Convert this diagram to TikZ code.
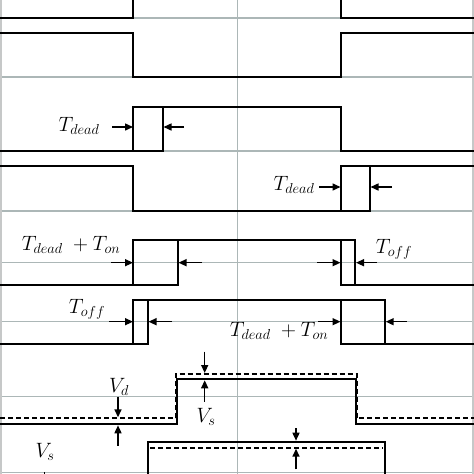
\documentclass[tikz,border=0pt]{standalone}
\usetikzlibrary{arrows.meta}
\definecolor{gridc}{RGB}{172,183,183}
\definecolor{edgec}{RGB}{198,200,200}
\tikzset{
  sig/.style={line width=2pt, line join=miter, line cap=rect},
  dsig/.style={line width=1.8pt, dash pattern=on 5pt off 3pt},
  grid/.style={gridc, line width=1.1pt},
  marker/.style={line width=1.5pt, -{Triangle[length=8pt,width=7pt]}},
  lab/.style={anchor=base, inner sep=0pt, font=\huge},
}
\begin{document}
\begin{tikzpicture}[x=1pt,y=-1pt]
\useasboundingbox (0,0) rectangle (474,474);
\fill[white] (0,0) rectangle (474,474);
\clip (0,0) rectangle (474,474);
% grid
\foreach \yy in {18,77,151,211,262.7,321.7,396.7,472.7}
  \draw[grid] (0,\yy) -- (474,\yy);
\draw[grid] (237.3,0) -- (237.3,474);
\draw[edgec, line width=2.2pt] (1.1,0) -- (1.1,474);
\draw[edgec, line width=1.8pt] (473.2,0) -- (473.2,474);
% row 1
\draw[sig] (0,18) -- (133.3,18) -- (133.3,-5);
\draw[sig] (340.7,-5) -- (340.7,18) -- (480,18);
% row 2
\draw[sig] (-5,33) -- (133.3,33) -- (133.3,77) -- (340.7,77) -- (340.7,33) -- (480,33);
% row 3
\draw[sig] (-5,151) -- (133.3,151);
\draw[sig] (133.3,151) rectangle (162.7,107);
\draw[sig] (162.7,107) -- (340.7,107) -- (340.7,151) -- (480,151);
% row 4
\draw[sig] (-5,165.7) -- (133.3,165.7) -- (133.3,211) -- (340.7,211);
\draw[sig] (340.7,211) rectangle (370,165.7);
\draw[sig] (370,165.7) -- (480,165.7);
% row 5
\draw[sig] (-5,285) -- (133.3,285);
\draw[sig] (133.3,285) rectangle (177.7,240.3);
\draw[sig] (177.7,240.3) -- (340.7,240.3);
\draw[sig] (340.7,240.3) rectangle (355.3,285);
\draw[sig] (355.3,285) -- (480,285);
% row 6
\draw[sig] (-5,343.7) -- (133.3,343.7);
\draw[sig] (133.3,343.7) rectangle (147.7,300);
\draw[sig] (147.7,300) -- (340.7,300);
\draw[sig] (340.7,300) rectangle (385,343.7);
\draw[sig] (385,343.7) -- (480,343.7);
% row 7
\draw[dsig] (0,418.3) -- (176,418.3) -- (176,374) -- (357,374) -- (357,418.3) -- (474,418.3);
\draw[sig] (-5,424.3) -- (177.3,424.3) -- (177.3,379.3) -- (355.7,379.3) -- (355.7,424.3) -- (480,424.3);
% row 8
\draw[sig] (147.7,480) -- (147.7,441.7) -- (385,441.7) -- (385,480);
\draw[dsig] (150,447.7) -- (383,447.7);
% labels
\node[lab] (l1) at (79,131) {$T_{dead}$};
\node[lab] (l2) at (294,190) {$T_{dead}$};
\node[lab] (l3) at (71,250) {$T_{dead}\;+T_{on}$};
\node[lab] (l4) at (394,253) {$T_{off}$};
\node[lab] (l5) at (87,313) {$T_{off}$};
\node[lab] (l6) at (279,336) {$T_{dead}\;+T_{on}$};
\node[lab] (l7) at (119,392) {$V_{d}$};
\node[lab] (l8) at (206,422) {$V_{s}$};
\node[lab] (l9) at (45,457) {$V_{s}$};
% arrow coordinates
\coordinate (a1s) at (112,127);   \coordinate (a1e) at (133,127);
\coordinate (a2s) at (184,127);   \coordinate (a2e) at (163.5,127);
\coordinate (b1s) at (319,187);   \coordinate (b1e) at (340.5,187);
\coordinate (b2s) at (392,187);   \coordinate (b2e) at (370.5,187);
\coordinate (c1s) at (111,262.7); \coordinate (c1e) at (133,262.7);
\coordinate (c2s) at (202,262.7); \coordinate (c2e) at (178.5,262.7);
\coordinate (c3s) at (317,262.7); \coordinate (c3e) at (340.5,262.7);
\coordinate (c4s) at (377,262.7); \coordinate (c4e) at (356,262.7);
\coordinate (d1s) at (109,321.7); \coordinate (d1e) at (133,321.7);
\coordinate (d2s) at (172,321.7); \coordinate (d2e) at (148.5,321.7);
\coordinate (d3s) at (318,321.7); \coordinate (d3e) at (340.5,321.7);
\coordinate (d4s) at (406.7,321.7); \coordinate (d4e) at (385.7,321.7);
\coordinate (e1s) at (118,396.7); \coordinate (e1e) at (118,417.3);
\coordinate (e2s) at (118,445.7); \coordinate (e2e) at (118,425.3);
\coordinate (f1s) at (204.7,351.7); \coordinate (f1e) at (204.7,373);
\coordinate (f2s) at (204.7,401.7); \coordinate (f2e) at (204.7,380.3);
\coordinate (g1s) at (296,428.3); \coordinate (g1e) at (296,440.7);
\coordinate (g2s) at (296,469.3); \coordinate (g2e) at (296,448.7);
\coordinate (h1s) at (44.3,472); \coordinate (h1e) at (44.3,480);
\foreach \p in {a1,a2,b1,b2,c1,c2,c3,c4,d1,d2,d3,d4,e1,e2,f1,f2,g1,g2}
  \draw[marker] (\p s) -- (\p e);
\draw[line width=1.5pt] (h1s) -- (h1e);
\end{tikzpicture}
\end{document}
